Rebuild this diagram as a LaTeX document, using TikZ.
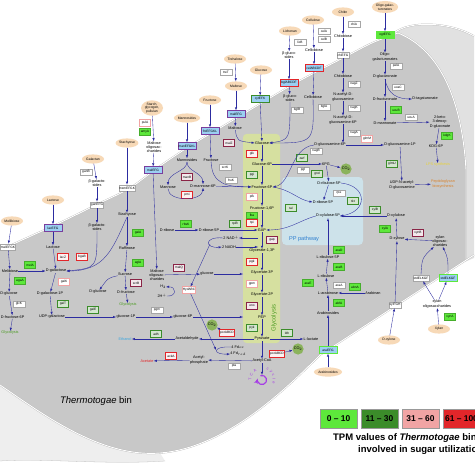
\documentclass[tikz,border=0pt]{standalone}
\usepackage{fontspec}
\setmainfont{Liberation Sans}
\setsansfont{Liberation Sans}
\usepackage{tikz}
\usetikzlibrary{arrows,positioning,shapes.geometric}

\definecolor{flowblue}{HTML}{2C2CA0}
\definecolor{cellgrey}{HTML}{C8C8C8}
\definecolor{outergrey}{HTML}{E1E1E1}
\definecolor{bandgrey}{HTML}{EEEEEE}
\definecolor{peach}{HTML}{F7D9B7}
\definecolor{tpmA}{HTML}{5DE83B}
\definecolor{tpmB}{HTML}{3B8C2A}
\definecolor{tpmC}{HTML}{F1A4A4}
\definecolor{tpmD}{HTML}{E2262A}
\definecolor{tpmE}{HTML}{8A2446}
\definecolor{glyco}{HTML}{D6E0A0}
\definecolor{ppbox}{HTML}{CDE2EA}
\definecolor{pptext}{HTML}{2E7FD0}
\definecolor{glytext}{HTML}{4B9B22}
\definecolor{tcapurple}{HTML}{A63CE6}
\definecolor{cogreen}{HTML}{8BB35C}
\definecolor{transblue}{HTML}{9BCFF2}
\definecolor{transpurple}{HTML}{7A3E9D}
\definecolor{ethblue}{HTML}{3BA7E0}
\definecolor{pgorange}{HTML}{D9822B}
\definecolor{lpsyellow}{HTML}{E8D23A}

\begin{document}
\begin{tikzpicture}[
    x=0.5mm, y=-0.5mm,
    >=latex',
    font=\sffamily\fontsize{5.4}{5.9}\selectfont,
    sub/.style={
		ellipse,
		fill=peach,
		inner sep=0.3pt,
		minimum width=11mm,
		minimum height=4.6mm,
		align=center,
		font=\sffamily\fontsize{4.8}{5.2}\selectfont
	},
	met/.style={
		inner sep=0.4pt,
		align=center
	},
	gene/.style={
		rectangle,
		draw=gray!70,
		fill=white,
		line width=0.4pt,
		inner sep=0.6pt,
		minimum width=5.8mm,
		minimum height=3.3mm,
		font=\sffamily\fontsize{4.6}{5}\selectfont
	},
	gA/.style={gene, draw=tpmA!75!black, fill=tpmA, line width=0.9pt},
	gB/.style={gene, draw=tpmB, fill=tpmB!22, line width=1.1pt},
	gC/.style={gene, draw=tpmC, fill=white, line width=1.1pt},
	gD/.style={gene, draw=tpmD, fill=tpmD!6, line width=1.1pt},
	gE/.style={gene, draw=tpmE, fill=tpmE!10, line width=1.1pt},
	trans/.style={gene, fill=transblue, draw=transpurple, line width=1.2pt, minimum width=9mm},
	link/.style={->, draw=flowblue, line width=0.5pt},
	co2/.style={circle, fill=cogreen, inner sep=0pt, minimum size=5.6mm},
	membrane/.style={draw=gray!60, double=white, double distance=1.3pt, line width=0.4pt},
	tpmkey/.style={
		rectangle,
		draw=black!40,
		minimum width=18.5mm,
		minimum height=9.5mm,
		font=\sffamily\bfseries\fontsize{12}{14}\selectfont
	}
  ]
  \fill [white] (0,0) rectangle (474,474);
  \useasboundingbox (0,0) rectangle (474,474);

  % the cell
  \fill [outergrey] (394,33) .. controls (410,20) and (450,22) .. (474,36) -- (474,258) -- (455,266) -- cycle;
  \fill [bandgrey] (0,385) .. controls (40,412) and (100,458) .. (160,453) -- (165,461) .. controls (105,465) and (45,458) .. (0,461) -- cycle;
  \fill [cellgrey] plot [smooth] coordinates {(0,250) (55,225) (100,203) (130,188) (160,166) (190,146) (215,131) (240,116) (265,101) (292,85) (318,71) (345,57) (372,43) (398,33)}
     .. controls (440,50) and (462,100) .. (466,170) -- (466,260) -- (320,355)
     .. controls (285,390) and (225,448) .. (160,453)
     .. controls (100,458) and (40,412) .. (0,385) -- cycle;
  \draw [membrane] plot [smooth] coordinates {(0,250) (55,225) (100,203) (130,188) (160,166) (190,146) (215,131) (240,116) (265,101) (292,85) (318,71) (345,57) (372,43) (398,33)}
     .. controls (440,50) and (462,100) .. (466,170) -- (466,260);
  \draw [membrane] (394,33) .. controls (410,20) and (450,22) .. (474,36);
  \draw [membrane] (474,255) -- (320,355) .. controls (285,390) and (225,448) .. (160,453) .. controls (100,458) and (40,412) .. (0,385);
  \draw [gray!50, line width=0.4pt] (165,461) .. controls (105,465) and (45,458) .. (0,461);

  \fill [glyco, rounded corners=5pt] (243,134) rectangle (280,343);
  \fill [ppbox, rounded corners=6pt] (282,177) rectangle (363,245);

  % substrates outside
  \node [sub] (melout) at (12,221) {Mellibiose};
  \node [sub] (lacout) at (53,200) {Lactose};
  \node [sub] (ganout) at (93,159) {Galactan};
  \node [sub] (staout) at (127,143) {Stachyose};
  \node [sub, minimum height=7mm] (stcout) at (152,108) {Starch,\\glycogen,\\pullulan};
  \node [sub] (manout) at (187,118) {Mannosides};
  \node [sub] (fruout) at (210,100) {Fructose};
  \node [sub] (treout) at (235,59) {Trehalose};
  \node [sub] (malout) at (236,86) {Maltose};
  \node [sub] (glcout) at (261,70) {Glucose};
  \node [sub] (licout) at (290,31) {Lichenan};
  \node [sub] (celout) at (313,20) {Cellulose};
  \node [sub] (chiout) at (343,12) {Chitin};
  \node [sub, minimum height=6mm] (ogtout) at (385,7) {Oligo-galac-\\turonates};
  \node [sub] (arbout) at (328,372) {Arabinosides};
  \node [sub] (xylout) at (389,340) {D-xylose};
  \node [sub] (xlnout) at (439,329) {Xylan};

  \node [met] (bgsout) at (97,183) {β-galacto-\\sides};
  \node [met] (mosout) at (154,147) {Maltose\\oligosac-\\charides};
  \node [met] (bglout) at (289,55) {β-gluco-\\sides};
  \node [met] (cbout) at (314,50) {Cellobiose};
  \node [met] (chbout) at (343,36) {Chitobiose};
  \node [met] (xosout) at (437,304) {xylan\\oligosaccharides};

  \node [gC] (pulA) at (145,123) {pulA};
  \node [gA] (amyA) at (145,132) {amyA};
  \node [gene] (ganB) at (86,172) {ganB};
  \node [gene] (treT) at (226,72) {treT};
  \node [gene] (licB) at (300,42) {licB};
  \node [gene] (celA) at (324,31) {celA};
  \node [gene] (celB) at (324,39) {celB};
  \node [gene] (chiA) at (354,24) {chiA};
  \node [gA] (xynA) at (450,317) {xynA};

  % transporters
  \node [gene] (melT) at (8,247) {melEFGK};
  \node [trans] (lacT) at (53,228) {lacEFG};
  \node [gene] (ganT) at (97,205) {ganEFG};
  \node [gene] (msmT) at (127,188) {msmEFGK};
  \node [trans] (malTa) at (153,170) {malEFG};
  \node [trans] (manT) at (187,146) {manEFGKL};
  \node [trans] (fruT) at (210,131) {frcEFGKL};
  \node [trans] (malTb) at (236,114) {malEFG};
  \node [trans, draw=tpmB] (glcT) at (260,99) {cytEFK};
  \node [trans, draw=tpmD] (bglT) at (289,83) {bglABCDF};
  \node [trans, draw=tpmD] (celT) at (314,68) {celABCDF};
  \node [gene] (chiT) at (343,55) {chiEFG};
  \node [trans, draw=tpmA, fill=tpmA] (ogtT) at (385,35) {ogtEFG};
  \node [trans, draw=tpmA] (araT) at (328,350) {araEFG};
  \node [gene] (xylT) at (395,305) {xylFGH};
  \node [gene] (xtdTa) at (421,278) {xtdELKGF};
  \node [trans, draw=tpmA] (xtdTb) at (448,278) {xtdELKGF};

  % galactosides, sucrose, maltodextrins
  \node [met] (mel) at (10,271) {Melibiose};
  \node [met] (glcl) at (9,294) {D-glucose};
  \node [met, anchor=west] (f6pl) at (0.5,317) {D-fructose-6P};
  \node [met, text=glytext] (glyl) at (10,333) {Glycolysis};
  \node [met] (lac) at (53,247) {Lactose};
  \node [met] (gal) at (56,271) {D-galactose};
  \node [met] (gal1p) at (50,294) {D-galactose-1P};
  \node [met] (udpgal) at (52,317) {UDP-galactose};
  \node [met] (bgs) at (97,227) {β-galacto-\\sides};
  \node [met] (sta) at (127,215) {Stachyose};
  \node [met] (raf) at (127,248) {Raffinose};
  \node [met] (suc) at (125,274) {Sucrose};
  \node [met] (glcm) at (98,292) {D-glucose};
  \node [met] (frum) at (126,292) {D-fructose};
  \node [met, text=glytext] (glym) at (128,305) {Glycolysis};
  \node [met] (mos) at (157,275) {Maltose\\oligosac-\\charides};
  \node [met] (glcr) at (207,274) {glucose};
  \node [met] (gonep) at (126,317) {glucose-1P};
  \node [met] (g6pl) at (183,317) {glucose-6P};

  \node [gA] (melA) at (30,265) {melA};
  \node [gA] (agaA) at (20,281) {agaA};
  \node [gD] (lacZ) at (63,257) {lacZ};
  \node [gD] (bgaB) at (82,257) {bgaB};
  \node [gC] (galK) at (64,282) {galK};
  \node [gB] (galT) at (63,304) {galT};
  \node [gene] (glcK) at (19,304) {glcK};
  \node [gB] (galE) at (93,310) {galE};
  \node [gene] (pgm) at (157,310) {pgm};
  \node [gA] (galA) at (138,233) {galA};
  \node [gA] (aglA) at (138,263) {aglA};
  \node [gE] (scrB) at (136,283) {scrB};
  \node [gE] (malQ) at (179,268) {malQ};

  % mannose, fructose, ribose
  \node [met] (manin) at (187,160) {Mannosides};
  \node [met] (fruin) at (211,160) {Fructose};
  \node [met] (mann) at (168,187) {Mannose};
  \node [met] (msixp) at (203,186) {D-mannose-6P};
  \node [met] (malt) at (235,128) {Maltose};
  \node [met] (bgl) at (290,98) {β-gluco-\\sides};
  \node [met] (cb) at (313,97) {Cellobiose};
  \node [met] (rib) at (167,230) {D-ribose};
  \node [met] (r5p) at (209,230) {D-ribose-5P};
  \node [met] (nad) at (231,238) {2 NAD$^+$};
  \node [met] (nadh) at (229,247) {2 NADH};
  \node [met] (htwo) at (163,287) {H$_2$};
  \node [met] (hplus) at (162,296) {2H$^+$};

  \node [gE] (manB) at (187,177) {manB};
  \node [gD] (pmi) at (187,195) {pmi};
  \node [gene] (scrK) at (225,167) {scrK};
  \node [gene] (fruK) at (231,180) {fruK};
  \node [gA] (rbsK) at (186,224) {rbsK};
  \node [gB] (rpiB) at (235,224) {rpiB};
  \node [gC] (hyd) at (189,290) {HydABC};
  \node [gE] (malZ) at (229,143) {malZ};
  \node [gene] (bglB) at (297,110) {bglB};
  \node [gene] (bglA) at (324,107) {bglA};

  % glycolysis
  \node [met] (glc) at (262,143) {Glucose};
  \node [met] (g6p) at (262,164) {Glucose-6P};
  \node [met] (f6p) at (262,187) {Fructose-6P};
  \node [met] (fbp) at (262,208) {Fructose-1,6P};
  \node [met] (gap) at (262,230) {GAP};
  \node [met] (bpg) at (262,251) {Glycerate-1,3P};
  \node [met] (pgthree) at (262,273) {Glycerate-3P};
  \node [met] (pgtwo) at (262,295) {Glycerate-2P};
  \node [met] (pep) at (262,317) {PEP};
  \node [met] (pyr) at (262,339) {Pyruvate};
  \node [met] (acoa) at (262,361) {Acetyl-CoA};
  \node [rotate=90, text=glytext, font=\sffamily\fontsize{8.5}{9}\selectfont] (glylabel) at (274,318) {Glycolysis};

  \node [gD] (glk) at (252,154) {glk};
  \node [gB] (pgi) at (252,175) {pgi};
  \node [gC] (pfk) at (252,197) {pfk};
  \node [gA] (fba) at (252,215.5) {fba};
  \node [gD] (tpi) at (252,223) {tpi};
  \node [gE] (gapg) at (272,240) {gap};
  \node [gD] (pgk) at (252,262) {pgk};
  \node [gC] (gpm) at (252,284) {gpm};
  \node [gE] (eno) at (252,306) {eno};
  \node [gB] (pyk) at (252,328) {pyk};

  % fermentation
  \node [met] (llac) at (311,339) {L-lactate};
  \node [met] (acald) at (187,339) {Acetaldehyde};
  \node [met, text=ethblue] (eth) at (125,339) {Ethanol};
  \node [met] (fdox) at (238,347) {4 Fd$_{ox}$};
  \node [met] (fdred) at (238,354) {4 Fd$_{red}$};
  \node [met] (acp) at (199,360) {Acetyl-\\phosphate};
  \node [met, text=tpmD] (ac) at (147,361) {Acetate};
  \node [co2] (co2a) at (346,169) {CO$_2$};
  \node [co2] (co2b) at (298,349) {CO$_2$};
  \node [co2] (co2c) at (212,325) {CO$_2$};

  \node [gB] (ldh) at (287,333) {ldh};
  \node [gD] (pora) at (227,333) {porABCD};
  \node [gD] (porb) at (277,354) {porABCD};
  \node [gB] (adh) at (156,334) {adh};
  \node [gene] (pta) at (234,366) {pta};
  \node [gD] (ackA) at (171,356) {ackA};

  \node [circle, minimum size=5mm] (tca) at (262,380) {};
  \draw [tcapurple, line width=1.6pt, ->] ([shift={(110:2.3mm)}]tca.center) arc [start angle=110, end angle=-200, radius=2.3mm];
  \foreach \ch/\ang in {T/178, C/152, A/127, c/62, y/42, c/22, l/4, e/-14}
    \node [text=tcapurple, rotate=\ang-90, inner sep=0pt, font=\sffamily\fontsize{5.5}{6}\selectfont] (tcal\ang) at ([shift={(\ang:6mm)}]tca.center) {\ch};

  % pentose phosphate, xylose, arabinose
  \node [met] (gnsixp) at (330,145) {D-glucosamine-6P};
  \node [met] (pgsix) at (326,164) {6PG};
  \node [met] (ru5p) at (329,183) {D-ribulose-5P};
  \node [met] (r5pp) at (323,202) {D-ribose-5P};
  \node [met] (x5p) at (328,216) {D-xylulose-5P};
  \node [text=pptext, font=\sffamily\fontsize{8}{9}\selectfont] (pplabel) at (304,239) {PP pathway};
  \node [met] (xylu) at (396,216) {D-xylulose};
  \node [met] (xyl) at (397,239) {D-xylose};
  \node [met] (xos) at (440,241) {xylan\\oligosac-\\charides};
  \node [met] (lru5p) at (328,257) {L-ribulose-5P};
  \node [met] (lru) at (326,276) {L-ribulose};
  \node [met] (lara) at (328,293) {L-arabinose};
  \node [met] (arbn) at (373,293) {Arabinan};
  \node [met] (arbs) at (328,313) {Arabinosides};

  \node [gene] (nagB) at (316,151) {nagB};
  \node [gB] (zwf) at (302,158) {zwf};
  \node [gene] (pgl) at (303,170) {pgl};
  \node [gB] (gnd) at (317,174) {gnd};
  \node [gene] (rpe) at (339,193) {rpe};
  \node [gB] (tkt) at (353,201) {tkt};
  \node [gB] (tal) at (291,208) {tal};
  \node [gB] (xylB) at (375,210) {xylB};
  \node [gA] (xylA) at (385,229) {xylA};
  \node [gE] (xynB) at (418,233) {xynB};
  \node [gA] (araD) at (339,250) {araD};
  \node [gA] (araB) at (339,267) {araB};
  \node [gene] (araA) at (339,285) {araA};
  \node [gA] (abnA) at (355,287) {abnA};
  \node [gA] (abfA) at (339,303) {abfA};
  \node [gA] (araE) at (308,283) {araE};

  % amino sugars and uronates
  \node [met] (chb) at (343,76) {Chitobiose};
  \node [met] (nag) at (343,97) {N-acetyl-D-\\glucosamine};
  \node [met] (nagsixp) at (343,120) {N-acetyl-D-\\glucosamine-6P};
  \node [met] (gnonep) at (400,145) {D-glucosamine-1P};
  \node [met] (udpnag) at (402,185) {UDP-N-acetyl-\\D-glucosamine};
  \node [met, text=pgorange] (pgsyn) at (443,184) {Peptidoglycan\\biosynthesis};
  \node [met, text=lpsyellow] (lps) at (438,165) {LPS synthesis};
  \node [met] (ogt) at (385,57) {Oligo-\\galacturonates};
  \node [met] (dglcu) at (385,77) {D-glucuronate};
  \node [met] (dfru) at (385,99) {D-fructuronate};
  \node [met] (dtag) at (425,99) {D-tagaturonate};
  \node [met] (dman) at (385,123) {D-mannonate};
  \node [met] (kdg) at (440,122) {2-keto-\\3-deoxy-\\D-gluconate};
  \node [met] (kdgsixp) at (436,146) {KDG-6P};

  \node [gene] (nagZ) at (354,84) {nagZ};
  \node [gene] (nagK) at (354,108) {nagK};
  \node [gene] (nagA) at (354,133) {nagA};
  \node [gC] (glmM) at (367,139) {glmM};
  \node [gB] (glmU) at (392,164) {glmU};
  \node [gene] (pelA) at (396,66) {pelA};
  \node [gene] (uxaC) at (398,87) {uxaC};
  \node [gA] (uxuB) at (396,110) {uxuB};
  \node [gene] (uxuA) at (411,117) {uxuA};
  \node [gA] (kdgK) at (447,136) {kdgK};

  \coordinate (glcin) at (243,274);
  \coordinate (colin) at (243,317);
  \coordinate (nadin) at (258,238);
  \coordinate (nadhout) at (258,247);
  \coordinate (nadloop) at (210,244);
  \coordinate (fdloop) at (216,350);

  % uptake
  \draw [link] (melout) -- (melT);
  \draw [link] (melT) -- (mel);
  \draw [link] (lacout) -- (lacT);
  \draw [link] (lacT) -- (lac);
  \draw [link] (ganout) -- (bgsout);
  \draw [link] (bgsout) -- (ganT);
  \draw [link] (ganT) -- (bgs);
  \draw [link] (staout) -- (msmT);
  \draw [link] (msmT) -- (sta);
  \draw [link] (stcout) -- (mosout);
  \draw [link] (mosout) -- (malTa);
  \draw [link] (malTa) -- (mos);
  \draw [link] (manout) -- (manT);
  \draw [link] (manT) -- (manin);
  \draw [link] (fruout) -- (fruT);
  \draw [link] (fruT) -- (fruin);
  \draw [link] (treout) -- (malout);
  \draw [link] (malout) -- (malTb);
  \draw [link] (malTb) -- (malt);
  \draw [link] (glcout) -- (glcT);
  \draw [link] (glcT) -- (glc);
  \draw [link] (licout) -- (bglout);
  \draw [link] (bglout) -- (bglT);
  \draw [link] (bglT) -- (bgl);
  \draw [link] (celout) -- (cbout);
  \draw [link] (cbout) -- (celT);
  \draw [link] (celT) -- (cb);
  \draw [link] (chiout) -- (chbout);
  \draw [link] (chbout) -- (chiT);
  \draw [link] (chiT) -- (chb);
  \draw [link] (ogtout) -- (ogtT);
  \draw [link] (ogtT) -- (ogt);
  \draw [link] (arbout) -- (araT);
  \draw [link] (araT) -- (arbs);
  \draw [link] (xylout) -- (xylT);
  \draw [link] (xylT) -- (xyl);
  \draw [link] (xlnout) -- (xosout);
  \draw [link] (xosout) -- (xtdTa);
  \draw [link] (xosout) -- (xtdTb);
  \draw [link] (xtdTa.north) .. controls (422,258) .. (xos);
  \draw [link] (xtdTb.north) .. controls (448,258) .. (xos);

  % inside
  \draw [link] (mel) -- (gal);
  \draw [link] (mel) -- (glcl);
  \draw [link] (glcl) -- (f6pl);
  \draw [link] (f6pl) -- (glyl);
  \draw [link] (lac) -- (gal);
  \draw [link] (gal) -- (gal1p);
  \draw [link] (gal1p) -- (udpgal);
  \draw [link] (udpgal) -- (gonep);
  \draw [link] (gonep) -- (g6pl);
  \draw [link] (g6pl) -- (colin);
  \draw [link] (bgs) .. controls (97,268) .. (gal.east);
  \draw [link] (sta) -- (raf);
  \draw [link] (raf) -- (suc);
  \draw [link] (sta.south) .. controls (112,250) and (105,271) .. (gal.east);
  \draw [link] (suc) -- (frum);
  \draw [link] (suc) .. controls (108,278) .. (glcm);
  \draw [link] (frum) -- (glym);
  \draw [link] (mos) -- (glcr);
  \draw [link] (glcr) -- (glcin);
  \draw [link] (manin.south) .. controls (187,172) and (168,172) .. (mann.north);
  \draw [link] (manin.south) .. controls (187,172) and (203,172) .. (msixp.north);
  \draw [link] (mann.south) .. controls (168,202) and (203,202) .. (msixp.south);
  \draw [link] (msixp) -- (f6p);
  \draw [link] (fruin) .. controls (212,184) and (226,187) .. (f6p.west);
  \draw [link] (malt) .. controls (237,141) .. (glc.west);
  \draw [link] (bgl) .. controls (290,140) .. (glc.east);
  \draw [link] (cb) .. controls (314,143) .. (glc.east);
  \draw [link] (rib) -- (r5p);
  \draw [link] (r5p) -- (gap);
  \draw [link] (nadin) -- (nad);
  \draw [link] (nadh) -- (nadhout);
  \draw [link] (nad.west) .. controls (204,236) and (204,249) .. (nadh.west);
  \draw [link] (nadloop) -- (hyd);
  \draw [link] (hplus.east) .. controls (177,297) and (177,286) .. (htwo.east);
  \draw [link] (hyd) -- (fdloop);

  \draw [link] (glc) -- (g6p);
  \draw [link] (g6p) -- (f6p);
  \draw [link] (f6p) -- (fbp);
  \draw [link] (fbp) -- (gap);
  \draw [link] (gap) -- (bpg);
  \draw [link] (bpg) -- (pgthree);
  \draw [link] (pgthree) -- (pgtwo);
  \draw [link] (pgtwo) -- (pep);
  \draw [link] (pep) -- (pyr);
  \draw [link] (pyr) -- (acoa);
  \draw [link] (acoa) -- (tca);
  \draw [link] (pyr) -- (llac);
  \draw [link] (pyr) -- (acald);
  \draw [link] (acald) -- (eth);
  \draw [link] (acoa) -- (acp);
  \draw [link] (acp) -- (ac);
  \draw [link] (pora) -- (co2c);
  \draw [link] (porb) -- (co2b);
  \draw [link] (fdox.west) .. controls (212,346) and (212,355) .. (fdred.west);

  \draw [link] (g6p) -- (pgsix);
  \draw [link] (pgsix) -- (co2a);
  \draw [link] (pgsix) -- (ru5p);
  \draw [link] (ru5p) -- (r5pp);
  \draw [link] (ru5p.east) .. controls (368,186) and (368,212) .. (x5p.east);
  \draw [link] (f6p.east) .. controls (292,190) and (298,200) .. (r5pp.west);
  \draw [link] (x5p.west) .. controls (298,221) and (290,230) .. (gap.east);
  \draw [link] (xylu) -- (x5p);
  \draw [link] (xyl) -- (xylu);
  \draw [link] (xos) -- (xyl);
  \draw [link] (lru5p) -- (x5p);
  \draw [link] (lru) -- (lru5p);
  \draw [link] (lara) -- (lru);
  \draw [link] (arbs) -- (lara);
  \draw [link] (arbn) -- (lara);

  \draw [link] (chb) -- (nag);
  \draw [link] (nag) -- (nagsixp);
  \draw [link] (nagsixp.south) -- (nagsixp.south |- gnsixp.north);
  \draw [link] (gnsixp) -- (gnonep);
  \draw [link] (gnsixp.west) .. controls (290,148) and (292,184) .. (f6p.east);
  \draw [link] (gnonep) -- (udpnag);
  \draw [link] (udpnag) -- (pgsyn);
  \draw [link] (ogt) -- (dglcu);
  \draw [link] (dglcu) -- (dfru);
  \draw [link] (dglcu.south) .. controls (388,95) and (398,99) .. (dtag);
  \draw [link] (dfru) -- (dman);
  \draw [link] (dman) -- (kdg);
  \draw [link] (kdg) -- (kdgsixp);
  \draw [link] (kdgsixp) -- (lps);

  % label and key
  \node [font=\sffamily\fontsize{13.5}{15}\selectfont] (binlabel) at (96,401) {\textit{Thermotogae} bin};
  \node [tpmkey, fill=tpmA] (keya) at (338.5,418.5) {0 – 10};
  \node [tpmkey, fill=tpmB] (keyb) at (379.5,418.5) {11 – 30};
  \node [tpmkey, fill=tpmC] (keyc) at (420.5,418.5) {31 – 60};
  \node [tpmkey, fill=tpmD] (keyd) at (461.5,418.5) {61 – 100};
  \node [anchor=west, inner sep=0pt, font=\sffamily\bfseries\fontsize{13.5}{15}\selectfont] (keytext) at (333,438) {TPM values of \textit{Thermotogae} bin genes};
  \node [anchor=west, inner sep=0pt, font=\sffamily\bfseries\fontsize{13.5}{15}\selectfont] (keytextb) at (358,450) {involved in sugar utilization};

\end{tikzpicture}
\end{document}
